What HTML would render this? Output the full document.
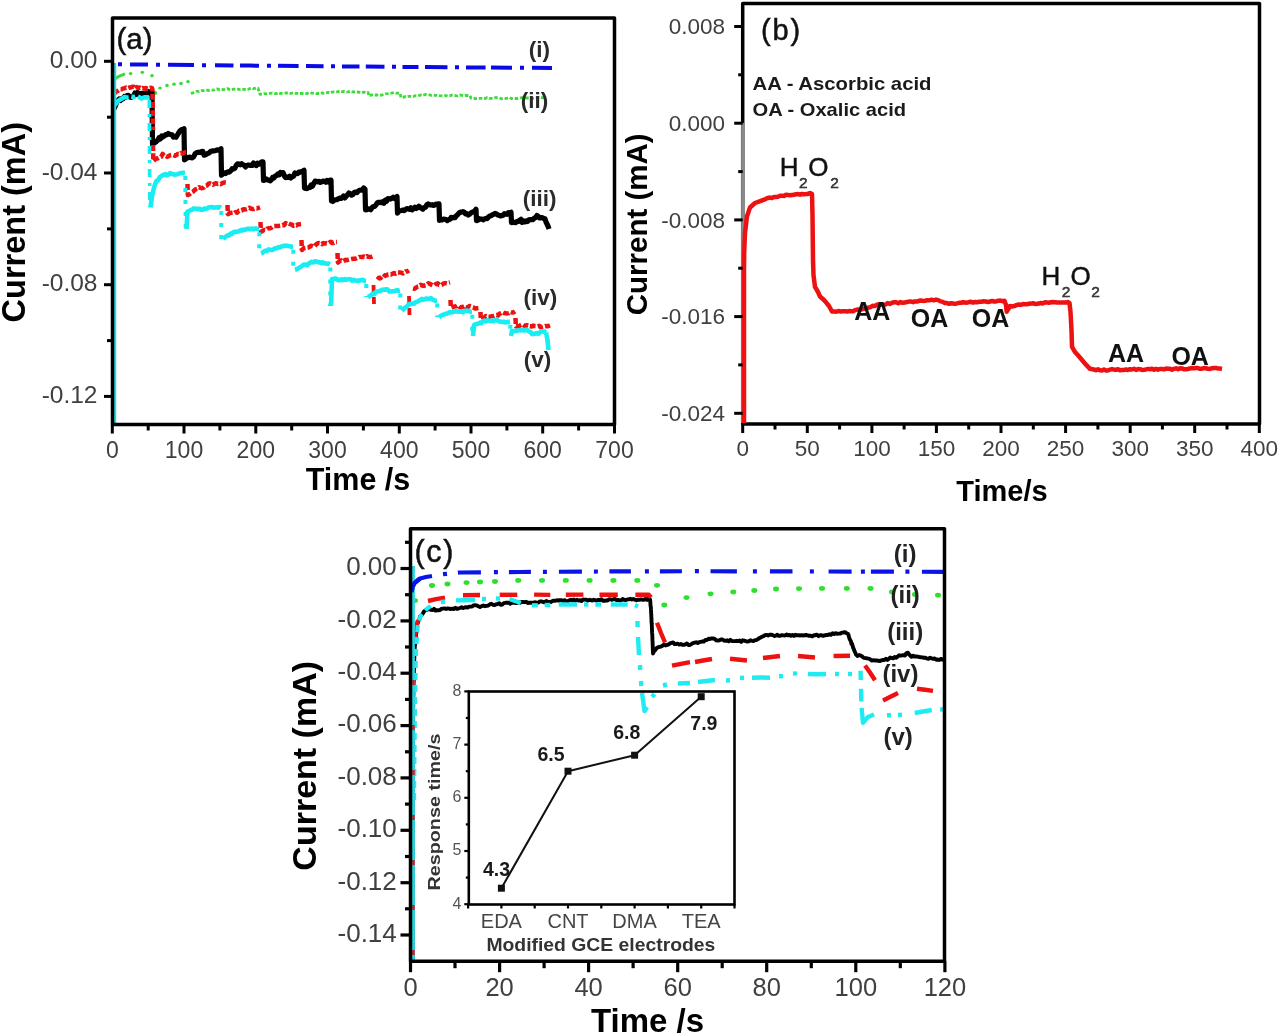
<!DOCTYPE html>
<html><head><meta charset="utf-8"><title>Figure</title>
<style>html,body{margin:0;padding:0;background:#fff;width:1280px;height:1035px;overflow:hidden}svg{display:block;font-family:"Liberation Sans",sans-serif;will-change:transform}</style></head>
<body>
<svg width="1280" height="1035" viewBox="0 0 1280 1035" font-family='"Liberation Sans", sans-serif'>
<rect width="1280" height="1035" fill="#fff"/>
<path d="M115.0,78.6 L120.0,75.8 L125.0,73.8" fill="none" stroke="#33dd33" stroke-width="3.0" stroke-linecap="butt" stroke-linejoin="round" opacity="1"/>
<ellipse cx="130.6" cy="73.6" rx="1.8" ry="1.6" fill="#33dd33"/>
<ellipse cx="142.3" cy="72.3" rx="1.8" ry="1.6" fill="#33dd33"/>
<ellipse cx="152" cy="75.7" rx="1.8" ry="1.6" fill="#33dd33"/>
<ellipse cx="160" cy="88" rx="1.8" ry="1.6" fill="#33dd33"/>
<ellipse cx="167" cy="85.4" rx="1.8" ry="1.6" fill="#33dd33"/>
<ellipse cx="174" cy="84.2" rx="1.8" ry="1.6" fill="#33dd33"/>
<ellipse cx="181" cy="83.4" rx="1.8" ry="1.6" fill="#33dd33"/>
<ellipse cx="188" cy="81.7" rx="1.8" ry="1.6" fill="#33dd33"/>
<ellipse cx="154.5" cy="93" rx="2.6" ry="2.3" fill="#33dd33"/>
<path d="M191.0,93.6 L193.0,92.8 L195.1,92.3 L197.1,91.3 L199.1,91.3 L201.2,90.6 L203.2,90.7 L205.2,90.4 L207.2,90.2 L209.3,90.5 L211.3,90.0 L213.3,90.2 L215.4,89.1 L217.4,88.9 L219.4,89.8 L221.5,89.5 L223.5,89.6 L225.5,89.3 L227.5,88.6 L229.6,89.5 L231.6,89.6 L233.6,89.1 L235.7,89.2 L237.7,89.1 L239.7,89.5 L241.8,89.0 L243.8,89.4 L245.8,89.5 L247.8,89.5 L249.9,88.5 L251.9,88.0 L253.9,88.7 L256.0,88.1 L258.0,88.2 L260.0,94.4 L262.0,94.1 L264.0,93.7 L266.0,93.9 L268.0,93.7 L270.0,93.3 L272.0,93.2 L274.0,93.3 L276.0,93.7 L278.0,92.7 L280.0,93.3 L282.0,93.4 L284.0,93.2 L286.0,93.1 L288.0,92.5 L290.0,93.3 L292.0,93.2 L294.0,92.9 L296.0,93.4 L298.0,93.4 L300.0,93.5 L302.0,93.3 L304.0,93.6 L306.0,93.6 L308.0,93.1 L310.0,92.6 L312.0,93.2 L314.0,93.1 L316.0,93.7 L318.0,93.5 L320.0,93.5 L322.0,92.9 L324.0,93.4 L326.0,93.0 L328.0,92.4 L330.0,93.1 L332.0,92.2 L334.0,91.9 L336.0,92.1 L338.0,91.6 L340.0,91.0 L342.0,91.7 L344.0,91.5 L346.0,92.1 L348.0,91.9 L350.0,91.3 L352.0,91.8 L354.0,91.9 L356.0,92.1 L358.0,92.0 L360.0,92.3 L362.0,92.7 L364.0,92.2 L366.0,92.6 L368.0,92.3 L369.0,96.0 L371.1,95.0 L373.1,94.9 L375.2,95.0 L377.3,95.0 L379.3,95.3 L381.4,95.2 L383.5,94.5 L385.5,93.9 L387.6,93.7 L389.7,93.4 L391.7,93.2 L393.8,92.5 L395.9,93.1 L397.9,93.2 L400.0,93.2 L401.0,97.5 L403.0,97.4 L405.1,96.6 L407.1,96.9 L409.1,96.2 L411.1,96.4 L413.2,96.5 L415.2,95.7 L417.2,95.7 L419.3,95.3 L421.3,95.0 L423.3,95.3 L425.4,94.5 L427.4,94.8 L429.4,94.9 L431.4,95.3 L433.5,95.1 L435.5,95.4 L437.5,95.3 L439.6,95.7 L441.6,95.9 L443.6,96.0 L445.6,95.5 L447.7,96.2 L449.7,95.9 L451.7,95.1 L453.8,95.2 L455.8,95.6 L457.8,95.8 L459.9,95.0 L461.9,95.3 L463.9,95.7 L465.9,95.3 L468.0,95.5 L470.0,95.7 L471.0,98.3 L473.0,98.8 L475.1,98.5 L477.1,98.6 L479.1,98.3 L481.1,98.3 L483.2,98.6 L485.2,98.4 L487.2,97.6 L489.2,98.3 L491.3,98.3 L493.3,98.4 L495.3,97.6 L497.4,97.6 L499.4,97.9 L501.4,98.8 L503.4,98.3 L505.5,98.5 L507.5,98.1 L509.5,97.5 L511.5,98.6 L513.6,98.7 L515.6,98.5 L517.6,98.5 L519.6,98.2 L521.7,97.6 L523.7,97.6 L525.7,97.9 L527.8,98.0 L529.8,98.0 L531.8,98.1 L533.8,98.3 L535.9,98.0 L537.9,97.6 L539.9,97.5 L541.9,97.6 L544.0,97.8 L546.0,97.8" fill="none" stroke="#3bdd3b" stroke-width="2.8" stroke-linecap="butt" stroke-linejoin="round" stroke-dasharray="3.5 1.8" opacity="1"/>
<path d="M118.0,64.3 L250.0,65.6 L400.0,66.9 L480.0,67.5 L552.0,68.0" fill="none" stroke="#0a0ae6" stroke-width="4.0" stroke-linecap="butt" stroke-linejoin="round" stroke-dasharray="4.0 8.0 18.0 8.0 4.0 8.0 26.0 8.0 4.0 9.0 18.5 6.5 19.0 8.0 4.0 7.0 20.6 7.4 17.6 7.4 4.0 7.0 17.5 6.3 18.7 7.5 4.0 6.5 16.0 6.5 22.5 7.5 4.0 7.0 19.6 5.4 21.0 8.0 4.0 8.0 20.0 40" opacity="1"/>
<path d="M114.0,108.8 L115.3,106.2 L116.6,102.4 L117.9,100.7 L119.2,99.0 L120.6,100.4 L121.9,98.3 L123.2,98.8 L124.5,96.4 L125.8,97.2 L127.1,95.6 L128.4,95.3 L129.7,96.9 L131.0,97.3 L132.3,96.7 L133.7,95.4 L135.0,93.0 L136.3,94.5 L137.6,92.5 L138.9,93.5 L140.2,93.7 L141.5,93.3 L142.8,93.4 L144.1,94.5 L145.4,94.0 L146.8,92.8 L148.1,91.6 L149.4,93.1 L150.7,91.8 L152.0,92.3 L152.5,144.3 L153.8,143.4 L155.1,142.4 L156.4,141.5 L157.8,140.1 L159.1,137.8 L160.4,138.9 L161.7,135.9 L163.0,136.8 L164.3,135.9 L165.6,134.7 L166.9,134.8 L168.2,133.4 L169.6,134.2 L170.9,134.6 L172.2,134.9 L173.5,137.1 L174.8,136.5 L176.1,137.2 L177.4,135.0 L178.8,132.7 L180.1,130.7 L181.4,129.7 L182.7,129.6 L184.0,128.7 L184.5,159.8 L185.8,159.0 L187.1,158.0 L188.4,157.3 L189.7,157.2 L191.0,157.7 L192.3,157.8 L193.6,156.7 L194.9,154.2 L196.2,152.9 L197.5,152.4 L198.8,152.2 L200.1,152.6 L201.4,151.5 L202.8,151.3 L204.1,155.2 L205.4,154.8 L206.7,154.0 L208.0,153.2 L209.3,152.9 L210.6,151.3 L211.9,151.2 L213.2,150.8 L214.5,150.8 L215.8,150.4 L217.1,149.9 L218.4,150.2 L219.7,149.8 L221.0,148.7 L221.5,175.1 L222.8,173.8 L224.2,172.8 L225.5,173.5 L226.9,172.2 L228.2,171.9 L229.5,172.1 L230.9,170.6 L232.2,168.7 L233.5,169.1 L234.9,168.3 L236.2,165.4 L237.6,163.8 L238.9,164.1 L240.2,164.8 L241.6,163.6 L242.9,164.8 L244.3,165.2 L245.6,166.9 L246.9,165.4 L248.3,165.0 L249.6,165.3 L251.0,165.2 L252.3,165.4 L253.6,163.0 L255.0,164.8 L256.3,165.6 L257.6,163.2 L259.0,164.1 L260.3,162.8 L261.7,161.8 L263.0,161.9 L263.5,180.5 L264.8,180.1 L266.1,178.9 L267.4,179.9 L268.7,180.1 L270.0,180.9 L271.3,179.8 L272.6,177.4 L274.0,178.0 L275.3,175.9 L276.6,175.5 L277.9,174.0 L279.2,174.8 L280.5,172.5 L281.8,172.9 L283.1,172.6 L284.4,176.0 L285.7,177.6 L287.0,177.1 L288.3,177.5 L289.6,176.2 L290.9,177.9 L292.2,176.7 L293.5,176.3 L294.9,173.0 L296.2,173.6 L297.5,173.7 L298.8,172.0 L300.1,172.3 L301.4,171.6 L302.7,171.0 L304.0,170.3 L304.5,188.0 L305.8,188.5 L307.1,188.6 L308.5,187.8 L309.8,187.5 L311.1,184.9 L312.4,186.2 L313.8,183.6 L315.1,181.1 L316.4,181.3 L317.8,181.8 L319.1,181.4 L320.4,182.4 L321.7,181.9 L323.1,181.1 L324.4,181.3 L325.7,182.2 L327.0,180.5 L328.4,182.0 L329.7,180.4 L331.0,180.1 L331.5,200.9 L332.8,201.5 L334.2,200.1 L335.5,199.8 L336.9,199.6 L338.2,198.9 L339.5,198.1 L340.9,198.5 L342.2,197.6 L343.6,195.9 L344.9,197.9 L346.2,196.3 L347.6,194.8 L348.9,193.0 L350.3,193.7 L351.6,195.2 L352.9,194.5 L354.3,192.3 L355.6,192.1 L357.0,192.7 L358.3,191.0 L359.6,190.3 L361.0,190.1 L362.3,190.1 L363.7,188.0 L365.0,189.2 L365.5,209.8 L366.8,209.7 L368.1,208.9 L369.4,208.9 L370.8,209.7 L372.1,207.7 L373.4,206.5 L374.7,206.4 L376.0,204.9 L377.3,202.7 L378.6,202.3 L379.9,202.4 L381.2,202.7 L382.6,201.7 L383.9,203.2 L385.2,200.2 L386.5,201.3 L387.8,198.5 L389.1,198.7 L390.4,199.1 L391.8,198.2 L393.1,197.3 L394.4,198.5 L395.7,197.6 L397.0,196.6 L397.5,213.2 L398.8,211.2 L400.2,210.7 L401.5,210.5 L402.9,210.1 L404.2,210.6 L405.5,209.3 L406.9,208.7 L408.2,208.8 L409.5,209.3 L410.9,207.8 L412.2,209.8 L413.6,208.7 L414.9,207.2 L416.2,208.5 L417.6,207.7 L418.9,206.2 L420.3,207.5 L421.6,208.4 L422.9,209.2 L424.3,207.5 L425.6,207.2 L427.0,204.5 L428.3,203.9 L429.6,204.7 L431.0,205.1 L432.3,204.7 L433.6,205.5 L435.0,204.8 L436.3,204.0 L437.7,204.1 L439.0,203.8 L439.5,220.3 L440.8,220.0 L442.1,220.0 L443.4,219.0 L444.7,219.3 L446.0,219.6 L447.3,220.5 L448.6,219.6 L449.9,219.5 L451.2,217.4 L452.5,217.8 L453.8,217.3 L455.1,217.7 L456.4,215.7 L457.8,214.5 L459.1,213.1 L460.4,212.0 L461.7,212.1 L463.0,211.6 L464.3,212.1 L465.6,214.0 L466.9,213.7 L468.2,215.1 L469.5,214.3 L470.8,213.1 L472.1,212.2 L473.4,211.8 L474.7,211.1 L476.0,209.3 L476.5,220.6 L477.8,220.3 L479.2,218.6 L480.5,219.1 L481.8,219.1 L483.1,219.8 L484.5,218.8 L485.8,218.7 L487.1,218.7 L488.4,216.9 L489.8,216.1 L491.1,215.8 L492.4,214.7 L493.8,214.3 L495.1,213.4 L496.4,213.9 L497.7,214.9 L499.1,215.3 L500.4,216.0 L501.7,215.5 L503.0,215.5 L504.4,213.7 L505.7,214.0 L507.0,214.3 L508.3,212.7 L509.7,213.0 L511.0,212.3 L511.5,222.6 L512.8,222.5 L514.2,222.4 L515.5,222.7 L516.9,221.6 L518.2,221.4 L519.5,220.3 L520.9,219.3 L522.2,222.4 L523.6,220.9 L524.9,221.9 L526.2,220.8 L527.6,221.5 L528.9,219.8 L530.3,219.6 L531.6,219.5 L532.9,219.6 L534.3,218.2 L535.6,217.6 L537.0,215.4 L538.3,216.5 L539.6,217.9 L541.0,217.6 L542.3,217.6 L543.7,218.5 L545.0,218.8 L546.0,222.0 L548.0,226.0 L549.0,229.0" fill="none" stroke="#000" stroke-width="5.2" stroke-linecap="butt" stroke-linejoin="round" opacity="1"/>
<path d="M114.0,93.9 L115.5,92.2 L117.0,91.3 L118.6,90.3 L120.1,89.2 L121.6,89.2 L123.1,88.4 L124.6,88.2 L126.2,87.6 L127.7,88.2 L129.2,87.6 L130.7,87.5 L132.2,86.8 L133.8,86.8 L135.3,88.5 L136.8,87.1 L138.3,88.2 L139.8,87.5 L141.4,88.5 L142.9,88.0 L144.4,88.8 L145.9,88.0 L147.4,88.7 L149.0,88.1 L150.5,87.8 L152.0,87.9 L152.5,90.0 L153.0,130.0" fill="none" stroke="#ee1111" stroke-width="4.5" stroke-linecap="butt" stroke-linejoin="round" stroke-dasharray="6 2.2" opacity="1"/>
<path d="M153.0,145.0 L153.3,161.0 L153.6,160.8 L155.1,159.4 L156.6,158.4 L158.2,158.3 L159.7,157.4 L161.2,156.8 L162.7,153.9 L164.2,156.0 L165.7,155.9 L167.3,156.9 L168.8,156.0 L170.3,155.2 L171.8,155.0 L173.3,155.1 L174.9,155.8 L176.4,155.0 L177.9,153.9 L179.4,154.1 L180.9,153.0 L182.4,153.5 L184.0,152.6 L185.5,152.3 L187.0,152.1" fill="none" stroke="#ee1111" stroke-width="4.5" stroke-linecap="butt" stroke-linejoin="round" stroke-dasharray="6 2.2" opacity="1"/>
<path d="M187.5,184.0 L187.8,195.0 L188.1,195.0 L189.7,194.1 L191.2,192.6 L192.8,191.8 L194.3,190.3 L195.9,189.2 L197.4,188.6 L199.0,187.2 L200.5,187.9 L202.1,188.2 L203.7,187.6 L205.2,186.0 L206.8,185.6 L208.3,183.9 L209.9,183.2 L211.4,183.9 L213.0,184.8 L214.6,183.6 L216.1,183.2 L217.7,183.9 L219.2,183.6 L220.8,184.2 L222.3,183.2 L223.9,182.6 L225.4,182.5 L227.0,182.6" fill="none" stroke="#ee1111" stroke-width="4.5" stroke-linecap="butt" stroke-linejoin="round" stroke-dasharray="6 2.2" opacity="1"/>
<path d="M227.5,205.0 L227.8,213.8 L228.1,214.2 L229.6,213.2 L231.1,212.8 L232.7,212.6 L234.2,213.3 L235.7,212.1 L237.2,212.7 L238.7,210.8 L240.3,210.8 L241.8,210.5 L243.3,209.3 L244.8,209.4 L246.3,209.3 L247.8,208.8 L249.4,207.7 L250.9,208.7 L252.4,209.1 L253.9,208.9 L255.4,208.3 L257.0,208.4 L258.5,207.8 L260.0,207.3" fill="none" stroke="#ee1111" stroke-width="4.5" stroke-linecap="butt" stroke-linejoin="round" stroke-dasharray="6 2.2" opacity="1"/>
<path d="M260.5,222.0 L260.8,231.0 L261.1,231.6 L262.6,230.9 L264.2,229.9 L265.7,230.1 L267.2,228.6 L268.8,228.2 L270.3,228.2 L271.8,227.4 L273.4,226.1 L274.9,226.0 L276.4,226.1 L278.0,225.9 L279.5,225.8 L281.1,225.6 L282.6,225.0 L284.1,225.3 L285.7,223.0 L287.2,224.1 L288.7,223.6 L290.3,224.3 L291.8,224.5 L293.3,225.8 L294.9,225.1 L296.4,225.4 L297.9,224.4 L299.5,224.2 L301.0,224.0" fill="none" stroke="#ee1111" stroke-width="4.5" stroke-linecap="butt" stroke-linejoin="round" stroke-dasharray="6 2.2" opacity="1"/>
<path d="M301.5,240.0 L301.8,249.7 L302.1,250.0 L303.6,248.3 L305.1,248.1 L306.7,247.8 L308.2,247.6 L309.7,246.7 L311.2,245.8 L312.7,246.1 L314.2,246.7 L315.8,244.8 L317.3,243.5 L318.8,243.0 L320.3,243.2 L321.8,244.3 L323.3,243.1 L324.9,243.5 L326.4,243.1 L327.9,243.5 L329.4,242.5 L330.9,241.7 L332.4,243.0 L334.0,242.7 L335.5,241.9 L337.0,241.9" fill="none" stroke="#ee1111" stroke-width="4.5" stroke-linecap="butt" stroke-linejoin="round" stroke-dasharray="6 2.2" opacity="1"/>
<path d="M337.5,253.0 L337.8,262.0 L338.1,262.6 L339.6,260.9 L341.1,260.3 L342.7,261.5 L344.2,260.7 L345.7,259.8 L347.2,260.2 L348.7,259.7 L350.2,259.3 L351.8,258.9 L353.3,258.7 L354.8,258.8 L356.3,258.4 L357.8,257.7 L359.3,256.9 L360.9,256.9 L362.4,257.0 L363.9,256.5 L365.4,257.1 L366.9,256.2 L368.4,256.8 L370.0,257.0 L371.5,256.8 L373.0,256.2" fill="none" stroke="#ee1111" stroke-width="4.5" stroke-linecap="butt" stroke-linejoin="round" stroke-dasharray="6 2.2" opacity="1"/>
<path d="M373.5,285.0 L374.0,304.0" fill="none" stroke="#ee1111" stroke-width="3.8" stroke-linecap="butt" stroke-linejoin="round" stroke-dasharray="9 3" opacity="1"/>
<path d="M377.5,279.7 L379.0,277.7 L380.5,278.2 L382.0,276.6 L383.5,277.3 L385.0,275.2 L386.5,275.4 L388.0,274.4 L389.5,274.3 L391.0,274.5 L392.5,273.8 L394.0,273.1 L395.5,273.7 L397.0,272.6 L398.5,272.6 L400.0,272.4 L401.5,272.7 L403.0,273.4 L404.5,272.4 L406.0,271.2 L407.5,271.4 L409.0,270.4" fill="none" stroke="#ee1111" stroke-width="4.5" stroke-linecap="butt" stroke-linejoin="round" stroke-dasharray="6 2.2" opacity="1"/>
<path d="M409.0,296.0 L409.5,315.0" fill="none" stroke="#ee1111" stroke-width="3.8" stroke-linecap="butt" stroke-linejoin="round" stroke-dasharray="9 3" opacity="1"/>
<path d="M413.0,288.4 L414.5,288.8 L416.1,287.6 L417.6,286.6 L419.2,286.2 L420.7,284.8 L422.2,285.5 L423.8,285.9 L425.3,285.2 L426.9,284.8 L428.4,283.2 L430.0,283.9 L431.5,284.8 L433.0,285.4 L434.6,285.2 L436.1,283.8 L437.7,283.3 L439.2,285.0 L440.8,285.1 L442.3,284.5 L443.8,283.4 L445.4,283.1 L446.9,283.4 L448.5,282.8 L450.0,282.4" fill="none" stroke="#ee1111" stroke-width="4.5" stroke-linecap="butt" stroke-linejoin="round" stroke-dasharray="6 2.2" opacity="1"/>
<path d="M450.5,300.0 L450.8,307.0 L451.1,307.7 L452.6,307.1 L454.1,306.5 L455.7,306.5 L457.2,305.5 L458.7,306.2 L460.2,307.7 L461.7,307.1 L463.3,306.6 L464.8,305.9 L466.3,307.8 L467.8,307.2 L469.4,306.0 L470.9,306.5 L472.4,307.2 L473.9,307.7 L475.4,308.6 L477.0,308.2 L478.5,308.0 L480.0,308.6" fill="none" stroke="#ee1111" stroke-width="4.5" stroke-linecap="butt" stroke-linejoin="round" stroke-dasharray="6 2.2" opacity="1"/>
<path d="M480.5,312.0 L480.8,319.0 L481.1,319.6 L482.6,318.9 L484.2,317.7 L485.7,316.1 L487.3,316.8 L488.8,317.0 L490.3,316.6 L491.9,316.2 L493.4,315.9 L495.0,315.3 L496.5,315.0 L498.1,315.5 L499.6,313.6 L501.1,313.1 L502.7,312.2 L504.2,313.0 L505.8,313.3 L507.3,313.4 L508.8,313.1 L510.4,311.9 L511.9,312.4 L513.5,312.4 L515.0,311.4" fill="none" stroke="#ee1111" stroke-width="4.5" stroke-linecap="butt" stroke-linejoin="round" stroke-dasharray="6 2.2" opacity="1"/>
<path d="M515.5,318.0 L515.8,326.0 L516.1,326.5 L517.6,326.2 L519.2,326.2 L520.7,325.0 L522.3,324.3 L523.8,325.4 L525.3,326.5 L526.9,325.0 L528.4,326.0 L530.0,326.1 L531.5,326.5 L533.0,325.6 L534.6,326.0 L536.1,326.1 L537.7,326.3 L539.2,325.8 L540.8,327.4 L542.3,326.9 L543.8,326.5 L545.4,326.0 L546.9,326.3 L548.5,326.0 L550.0,325.4" fill="none" stroke="#ee1111" stroke-width="4.5" stroke-linecap="butt" stroke-linejoin="round" stroke-dasharray="6 2.2" opacity="1"/>
<path d="M114.0,105.7 L115.5,104.1 L117.0,102.0 L118.6,100.6 L120.1,99.6 L121.6,98.7 L123.1,98.0 L124.7,97.0 L126.2,97.3 L127.7,97.5 L129.2,97.4 L130.7,96.4 L132.3,96.7 L133.8,97.1 L135.3,96.8 L136.8,96.1 L138.3,96.7 L139.9,97.6 L141.4,98.5 L142.9,98.0 L144.4,97.2 L146.0,97.4 L147.5,97.4 L149.0,97.0" fill="none" stroke="#18eef2" stroke-width="4.6" stroke-linecap="butt" stroke-linejoin="round" stroke-dasharray="18 3 4 3" opacity="1"/>
<path d="M149.3,100.0 L149.8,207.0" fill="none" stroke="#18eef2" stroke-width="3.6" stroke-linecap="butt" stroke-linejoin="round" stroke-dasharray="8 6 3 6" opacity="1"/>
<path d="M150.5,207.5 L152.0,196.5 L153.5,189.6 L155.0,184.3 L156.5,180.8 L158.0,180.5 L159.5,177.4 L161.0,176.4 L162.5,175.2 L164.0,174.8 L165.5,174.1 L167.0,175.4 L168.5,174.5 L170.0,173.1 L171.5,173.9 L173.0,174.2 L174.5,174.6 L176.0,174.5 L177.5,174.2 L179.0,173.5 L180.5,173.1 L182.0,173.0 L183.5,172.8 L185.0,173.0" fill="none" stroke="#18eef2" stroke-width="4.6" stroke-linecap="butt" stroke-linejoin="round" opacity="1"/>
<path d="M185.3,176.0 L185.7,229.0" fill="none" stroke="#18eef2" stroke-width="4.0" stroke-linecap="butt" stroke-linejoin="round" stroke-dasharray="4 8" opacity="1"/>
<path d="M186.5,229.0 L187.5,212.0 L187.5,211.5 L189.0,211.1 L190.5,210.1 L192.1,209.8 L193.6,208.4 L195.1,208.8 L196.6,208.7 L198.2,209.2 L199.7,208.7 L201.2,209.8 L202.7,209.9 L204.2,208.5 L205.8,208.7 L207.3,208.5 L208.8,207.2 L210.3,207.3 L211.9,207.0 L213.4,207.6 L214.9,207.5 L216.4,207.2 L218.0,207.6 L219.5,207.0 L221.0,207.9" fill="none" stroke="#18eef2" stroke-width="4.6" stroke-linecap="butt" stroke-linejoin="round" opacity="1"/>
<path d="M221.3,210.9 L221.2,239.0" fill="none" stroke="#18eef2" stroke-width="4.0" stroke-linecap="butt" stroke-linejoin="round" stroke-dasharray="4 8" opacity="1"/>
<path d="M223.0,238.6 L224.5,237.7 L226.0,236.5 L227.5,235.4 L229.0,235.5 L230.5,233.6 L232.0,233.7 L233.5,232.3 L235.0,231.8 L236.5,231.9 L238.0,231.5 L239.5,230.9 L241.0,230.1 L242.5,230.4 L244.0,229.6 L245.5,229.8 L247.0,228.9 L248.5,228.8 L250.0,229.3 L251.5,228.5 L253.0,229.4 L254.5,228.6 L256.0,228.5 L257.5,228.9 L259.0,229.3" fill="none" stroke="#18eef2" stroke-width="4.6" stroke-linecap="butt" stroke-linejoin="round" opacity="1"/>
<path d="M259.3,232.3 L259.2,254.0" fill="none" stroke="#18eef2" stroke-width="4.0" stroke-linecap="butt" stroke-linejoin="round" stroke-dasharray="4 8" opacity="1"/>
<path d="M261.0,253.4 L262.5,252.9 L264.0,251.4 L265.6,250.7 L267.1,250.9 L268.6,249.4 L270.1,249.8 L271.7,250.0 L273.2,249.5 L274.7,248.4 L276.2,248.4 L277.8,247.3 L279.3,247.5 L280.8,246.7 L282.3,246.3 L283.9,245.9 L285.4,245.7 L286.9,245.6 L288.4,246.0 L290.0,246.3 L291.5,246.7 L293.0,246.7" fill="none" stroke="#18eef2" stroke-width="4.6" stroke-linecap="butt" stroke-linejoin="round" opacity="1"/>
<path d="M293.3,249.7 L293.2,270.0" fill="none" stroke="#18eef2" stroke-width="4.0" stroke-linecap="butt" stroke-linejoin="round" stroke-dasharray="4 8" opacity="1"/>
<path d="M295.0,269.7 L296.5,269.3 L298.0,268.5 L299.6,267.6 L301.1,266.6 L302.6,265.5 L304.1,264.5 L305.7,264.5 L307.2,265.2 L308.7,263.5 L310.2,262.7 L311.7,261.9 L313.3,262.4 L314.8,261.2 L316.3,261.4 L317.8,262.3 L319.3,262.0 L320.9,263.0 L322.4,262.2 L323.9,263.3 L325.4,263.4 L327.0,263.8 L328.5,263.6 L330.0,264.4" fill="none" stroke="#18eef2" stroke-width="4.6" stroke-linecap="butt" stroke-linejoin="round" opacity="1"/>
<path d="M330.3,267.4 L330.2,306.0" fill="none" stroke="#18eef2" stroke-width="4.0" stroke-linecap="butt" stroke-linejoin="round" stroke-dasharray="4 8" opacity="1"/>
<path d="M331.0,306.0 L332.0,279.0 L332.0,279.4 L333.5,278.9 L335.1,278.6 L336.6,278.8 L338.2,280.2 L339.7,280.2 L341.3,279.4 L342.8,280.1 L344.4,279.1 L345.9,279.9 L347.5,279.4 L349.0,279.3 L350.5,279.3 L352.1,280.7 L353.6,279.9 L355.2,280.5 L356.7,280.7 L358.3,280.4 L359.8,280.7 L361.4,280.0 L362.9,279.9 L364.5,280.9 L366.0,281.1" fill="none" stroke="#18eef2" stroke-width="4.6" stroke-linecap="butt" stroke-linejoin="round" opacity="1"/>
<path d="M366.3,284.1 L366.2,297.0" fill="none" stroke="#18eef2" stroke-width="4.0" stroke-linecap="butt" stroke-linejoin="round" stroke-dasharray="4 8" opacity="1"/>
<path d="M368.0,297.1 L369.5,296.3 L371.0,295.1 L372.6,293.8 L374.1,294.2 L375.6,292.3 L377.1,291.5 L378.7,291.2 L380.2,291.0 L381.7,290.0 L383.2,289.6 L384.8,289.8 L386.3,289.3 L387.8,289.6 L389.3,291.5 L390.9,291.5 L392.4,291.2 L393.9,291.3 L395.4,290.7 L397.0,290.3 L398.5,290.8 L400.0,290.5" fill="none" stroke="#18eef2" stroke-width="4.6" stroke-linecap="butt" stroke-linejoin="round" opacity="1"/>
<path d="M400.3,293.5 L400.2,311.0" fill="none" stroke="#18eef2" stroke-width="4.0" stroke-linecap="butt" stroke-linejoin="round" stroke-dasharray="4 8" opacity="1"/>
<path d="M402.0,310.9 L403.5,309.3 L405.0,307.6 L406.6,306.9 L408.1,304.9 L409.6,303.9 L411.1,304.1 L412.7,303.5 L414.2,303.7 L415.7,302.2 L417.2,301.8 L418.7,300.9 L420.3,300.2 L421.8,298.9 L423.3,299.8 L424.8,298.9 L426.3,298.6 L427.9,298.8 L429.4,298.7 L430.9,298.1 L432.4,299.4 L434.0,300.3 L435.5,300.7 L437.0,300.5" fill="none" stroke="#18eef2" stroke-width="4.6" stroke-linecap="butt" stroke-linejoin="round" opacity="1"/>
<path d="M437.3,303.5 L437.2,317.0" fill="none" stroke="#18eef2" stroke-width="4.0" stroke-linecap="butt" stroke-linejoin="round" stroke-dasharray="4 8" opacity="1"/>
<path d="M439.0,317.5 L440.5,316.1 L442.0,315.3 L443.5,314.8 L445.0,313.9 L446.5,313.8 L448.0,313.1 L449.5,312.0 L451.0,312.5 L452.5,311.9 L454.0,312.0 L455.5,310.9 L457.0,311.5 L458.5,311.7 L460.0,311.4 L461.5,311.9 L463.0,312.3 L464.5,311.0 L466.0,310.6 L467.5,310.8 L469.0,311.0 L470.5,311.8 L472.0,311.7" fill="none" stroke="#18eef2" stroke-width="4.6" stroke-linecap="butt" stroke-linejoin="round" opacity="1"/>
<path d="M472.3,314.7 L472.2,336.0" fill="none" stroke="#18eef2" stroke-width="4.0" stroke-linecap="butt" stroke-linejoin="round" stroke-dasharray="4 8" opacity="1"/>
<path d="M473.0,336.0 L474.0,325.0 L474.0,325.0 L475.5,324.2 L477.0,323.9 L478.5,323.6 L480.0,322.5 L481.5,323.1 L483.0,321.3 L484.5,320.6 L486.0,321.4 L487.5,320.2 L489.0,320.8 L490.5,321.1 L492.0,320.5 L493.5,321.3 L495.0,320.4 L496.5,319.7 L498.0,321.2 L499.5,321.4 L501.0,321.8 L502.5,321.9 L504.0,321.7 L505.5,322.5 L507.0,322.1 L508.5,321.9 L510.0,321.7" fill="none" stroke="#18eef2" stroke-width="4.6" stroke-linecap="butt" stroke-linejoin="round" opacity="1"/>
<path d="M510.3,324.7 L510.2,336.0" fill="none" stroke="#18eef2" stroke-width="4.0" stroke-linecap="butt" stroke-linejoin="round" stroke-dasharray="4 8" opacity="1"/>
<path d="M511.0,336.0 L512.0,331.0 L512.0,330.9 L513.5,331.3 L515.1,330.9 L516.6,330.9 L518.2,330.6 L519.7,330.1 L521.3,330.5 L522.8,330.1 L524.4,330.5 L525.9,329.6 L527.5,330.2 L529.0,331.6 L530.5,332.0 L532.1,334.1 L533.6,333.9 L535.2,333.8 L536.7,333.0 L538.3,333.8 L539.8,332.3 L541.4,331.2 L542.9,331.6 L544.5,331.5 L546.0,332.4" fill="none" stroke="#18eef2" stroke-width="4.6" stroke-linecap="butt" stroke-linejoin="round" opacity="1"/>
<path d="M546.0,332.4 L547.5,340.0 L548.5,350.0" fill="none" stroke="#18eef2" stroke-width="4.6" stroke-linecap="butt" stroke-linejoin="round" opacity="1"/>
<line x1="114.9" y1="63.0" x2="114.9" y2="423.0" stroke="#2ad6e0" stroke-width="2.6"/>
<rect x="112.5" y="18" width="502.0" height="406.5" fill="none" stroke="#000" stroke-width="3.5" stroke-linejoin="round"/>
<line x1="104.0" y1="61.3" x2="112.5" y2="61.3" stroke="#000" stroke-width="3"/>
<text x="97.5" y="67.9" font-size="24.5" font-weight="normal" text-anchor="end" fill="#404040" >0.00</text>
<line x1="107.0" y1="117.2" x2="112.5" y2="117.2" stroke="#000" stroke-width="3"/>
<line x1="104.0" y1="173.0" x2="112.5" y2="173.0" stroke="#000" stroke-width="3"/>
<text x="97.5" y="179.6" font-size="24.5" font-weight="normal" text-anchor="end" fill="#404040" >-0.04</text>
<line x1="107.0" y1="228.9" x2="112.5" y2="228.9" stroke="#000" stroke-width="3"/>
<line x1="104.0" y1="284.7" x2="112.5" y2="284.7" stroke="#000" stroke-width="3"/>
<text x="97.5" y="291.3" font-size="24.5" font-weight="normal" text-anchor="end" fill="#404040" >-0.08</text>
<line x1="107.0" y1="340.6" x2="112.5" y2="340.6" stroke="#000" stroke-width="3"/>
<line x1="104.0" y1="396.4" x2="112.5" y2="396.4" stroke="#000" stroke-width="3"/>
<text x="97.5" y="403.0" font-size="24.5" font-weight="normal" text-anchor="end" fill="#404040" >-0.12</text>
<line x1="112.3" y1="424.5" x2="112.3" y2="433.5" stroke="#000" stroke-width="3"/>
<text x="112.3" y="458.0" font-size="23" font-weight="normal" text-anchor="middle" fill="#404040" >0</text>
<line x1="148.2" y1="424.5" x2="148.2" y2="430.5" stroke="#000" stroke-width="3"/>
<line x1="184.0" y1="424.5" x2="184.0" y2="433.5" stroke="#000" stroke-width="3"/>
<text x="184.0" y="458.0" font-size="23" font-weight="normal" text-anchor="middle" fill="#404040" >100</text>
<line x1="219.9" y1="424.5" x2="219.9" y2="430.5" stroke="#000" stroke-width="3"/>
<line x1="255.8" y1="424.5" x2="255.8" y2="433.5" stroke="#000" stroke-width="3"/>
<text x="255.8" y="458.0" font-size="23" font-weight="normal" text-anchor="middle" fill="#404040" >200</text>
<line x1="291.7" y1="424.5" x2="291.7" y2="430.5" stroke="#000" stroke-width="3"/>
<line x1="327.5" y1="424.5" x2="327.5" y2="433.5" stroke="#000" stroke-width="3"/>
<text x="327.5" y="458.0" font-size="23" font-weight="normal" text-anchor="middle" fill="#404040" >300</text>
<line x1="363.4" y1="424.5" x2="363.4" y2="430.5" stroke="#000" stroke-width="3"/>
<line x1="399.3" y1="424.5" x2="399.3" y2="433.5" stroke="#000" stroke-width="3"/>
<text x="399.3" y="458.0" font-size="23" font-weight="normal" text-anchor="middle" fill="#404040" >400</text>
<line x1="435.1" y1="424.5" x2="435.1" y2="430.5" stroke="#000" stroke-width="3"/>
<line x1="471.0" y1="424.5" x2="471.0" y2="433.5" stroke="#000" stroke-width="3"/>
<text x="471.0" y="458.0" font-size="23" font-weight="normal" text-anchor="middle" fill="#404040" >500</text>
<line x1="506.9" y1="424.5" x2="506.9" y2="430.5" stroke="#000" stroke-width="3"/>
<line x1="542.7" y1="424.5" x2="542.7" y2="433.5" stroke="#000" stroke-width="3"/>
<text x="542.7" y="458.0" font-size="23" font-weight="normal" text-anchor="middle" fill="#404040" >600</text>
<line x1="578.6" y1="424.5" x2="578.6" y2="430.5" stroke="#000" stroke-width="3"/>
<line x1="614.5" y1="424.5" x2="614.5" y2="433.5" stroke="#000" stroke-width="3"/>
<text x="614.5" y="458.0" font-size="23" font-weight="normal" text-anchor="middle" fill="#404040" >700</text>
<text x="116.5" y="48.8" font-size="29.5" font-weight="normal" text-anchor="start" fill="#111" stroke="#111" stroke-width="0.5">(a)</text>
<text x="358.0" y="489.8" font-size="30.5" font-weight="bold" text-anchor="middle" fill="#000" >Time /s</text>
<text x="25.5" y="222.2" font-size="32.5" font-weight="bold" text-anchor="middle" fill="#000" transform="rotate(-90 25.5 222.2)">Current (mA)</text>
<text x="539.3" y="56.6" font-size="22.5" font-weight="bold" text-anchor="middle" fill="#2a2a2a" >(i)</text>
<text x="534.6" y="107.7" font-size="22.5" font-weight="bold" text-anchor="middle" fill="#2a2a2a" >(ii)</text>
<text x="539.6" y="206.3" font-size="22.5" font-weight="bold" text-anchor="middle" fill="#2a2a2a" >(iii)</text>
<text x="540.4" y="304.7" font-size="22.5" font-weight="bold" text-anchor="middle" fill="#2a2a2a" >(iv)</text>
<text x="537.4" y="366.5" font-size="22.5" font-weight="bold" text-anchor="middle" fill="#2a2a2a" >(v)</text>
<rect x="742.7" y="3.6" width="516.8" height="420.4" fill="none" stroke="#000" stroke-width="3.5" stroke-linejoin="round"/>
<line x1="742.9" y1="123.0" x2="742.9" y2="423.0" stroke="#8a8a8a" stroke-width="3.6"/>
<path d="M744.0,423.0 L744.0,330.0 L744.0,270.0 L744.2,252.6 L745.0,233.0 L747.0,216.3 L750.0,207.5 L755.0,203.0 L765.0,199.4 L766.0,198.8 L768.0,197.9 L770.0,197.6 L772.0,198.1 L774.0,196.9 L776.0,196.9 L778.0,196.7 L780.0,195.7 L782.0,195.8 L784.0,196.0 L786.0,194.8 L788.0,195.0 L790.0,195.2 L792.0,194.9 L794.0,194.8 L796.0,194.2 L798.0,194.1 L800.0,194.7 L802.0,193.9 L804.0,194.2 L806.0,194.1 L808.0,193.9 L810.0,193.0 L812.0,194.0 L812.5,215.0 L813.0,260.0 L813.5,275.3 L815.0,286.9 L818.0,292.0 L820.0,296.5 L824.0,300.0 L826.0,302.3 L829.0,306.0 L832.0,311.5 L832.0,311.4 L834.2,311.4 L836.3,311.7 L838.5,311.1 L840.7,311.4 L842.8,311.3 L845.0,311.3 L847.0,311.6 L849.0,311.1 L851.0,311.2 L853.0,311.2 L855.0,310.2 L857.2,309.6 L859.4,309.6 L861.6,309.5 L863.8,308.7 L866.0,308.4 L868.2,307.6 L870.4,307.2 L872.6,305.8 L874.8,306.1 L877.0,304.7 L879.1,304.3 L881.3,304.6 L883.4,304.8 L885.6,304.5 L887.7,303.1 L889.9,303.9 L892.0,302.7 L894.1,302.3 L896.2,302.3 L898.4,303.2 L900.5,302.1 L902.6,302.8 L904.8,302.6 L906.9,302.0 L909.0,301.6 L911.0,301.5 L913.0,302.2 L915.0,301.4 L917.0,301.6 L919.0,300.8 L921.0,300.5 L923.0,300.9 L925.0,300.8 L927.2,300.3 L929.4,300.3 L931.6,299.7 L933.8,300.3 L936.0,299.6 L938.2,300.1 L940.5,301.4 L942.8,301.9 L945.0,303.1 L947.0,303.1 L949.0,303.8 L951.0,303.3 L953.0,303.5 L955.0,303.9 L957.0,303.4 L959.0,302.8 L961.0,302.8 L963.0,302.3 L965.0,302.5 L967.0,302.7 L969.0,302.1 L971.0,301.8 L973.0,302.6 L975.0,301.9 L977.1,302.2 L979.3,301.7 L981.4,301.7 L983.6,301.3 L985.7,301.4 L987.9,302.1 L990.0,301.5 L992.1,301.0 L994.1,301.5 L996.2,301.5 L998.3,300.7 L1000.4,300.6 L1002.4,301.2 L1004.5,300.8 L1006.0,305.0 L1006.7,311.7 L1010.0,306.3 L1010.0,306.1 L1012.1,306.4 L1014.3,306.1 L1016.4,305.1 L1018.6,304.5 L1020.7,304.8 L1022.9,304.0 L1025.0,304.3 L1027.0,304.3 L1029.0,303.8 L1031.0,303.6 L1033.0,303.2 L1035.0,303.9 L1037.0,303.7 L1039.0,303.4 L1041.0,303.1 L1043.0,303.4 L1045.0,302.3 L1047.0,302.4 L1049.0,302.8 L1051.0,302.3 L1053.0,302.1 L1055.0,302.2 L1057.2,302.4 L1059.3,302.5 L1061.5,302.6 L1063.7,302.6 L1065.8,302.6 L1068.0,302.0 L1069.5,303.0 L1070.5,312.0 L1071.5,330.0 L1072.0,346.9 L1075.0,352.0 L1078.0,355.3 L1082.0,360.0 L1085.0,363.7 L1090.0,368.8 L1095.0,369.8 L1096.0,370.3 L1098.0,369.3 L1100.0,370.3 L1102.0,370.5 L1104.0,369.4 L1106.0,370.4 L1108.0,370.4 L1110.0,369.7 L1112.0,369.1 L1114.0,369.7 L1116.0,369.7 L1118.0,369.2 L1120.0,370.3 L1122.0,370.1 L1124.0,369.9 L1126.0,369.5 L1128.0,370.0 L1130.0,369.2 L1132.0,369.5 L1134.0,368.8 L1136.0,369.9 L1138.0,369.1 L1140.0,369.2 L1142.0,369.9 L1144.0,369.7 L1146.0,369.4 L1148.0,368.9 L1150.0,369.3 L1152.0,368.8 L1154.0,369.8 L1156.0,368.9 L1158.0,369.7 L1160.0,369.0 L1162.0,368.9 L1164.0,369.4 L1166.0,368.6 L1168.0,368.7 L1170.0,368.7 L1172.0,369.7 L1174.0,368.9 L1176.0,368.3 L1178.0,369.2 L1180.0,368.2 L1182.0,368.4 L1184.0,369.3 L1186.0,369.3 L1188.0,369.0 L1190.0,368.4 L1192.0,368.1 L1194.0,368.3 L1196.0,368.1 L1198.0,368.1 L1200.0,368.8 L1202.0,368.7 L1204.0,368.0 L1206.0,368.2 L1208.0,368.7 L1210.0,368.9 L1212.0,368.2 L1214.0,367.9 L1216.0,367.9 L1218.0,368.6 L1220.0,368.6 L1222.0,368.9" fill="none" stroke="#ee1111" stroke-width="4.5" stroke-linecap="butt" stroke-linejoin="round" opacity="1"/>
<line x1="734.2" y1="26.5" x2="742.7" y2="26.5" stroke="#000" stroke-width="3"/>
<text x="725.0" y="34.3" font-size="22.5" font-weight="normal" text-anchor="end" fill="#404040" >0.008</text>
<line x1="738.2" y1="74.8" x2="742.7" y2="74.8" stroke="#000" stroke-width="3"/>
<line x1="734.2" y1="123.2" x2="742.7" y2="123.2" stroke="#000" stroke-width="3"/>
<text x="725.0" y="131.0" font-size="22.5" font-weight="normal" text-anchor="end" fill="#404040" >0.000</text>
<line x1="738.2" y1="171.6" x2="742.7" y2="171.6" stroke="#000" stroke-width="3"/>
<line x1="734.2" y1="219.9" x2="742.7" y2="219.9" stroke="#000" stroke-width="3"/>
<text x="725.0" y="227.7" font-size="22.5" font-weight="normal" text-anchor="end" fill="#404040" >-0.008</text>
<line x1="738.2" y1="268.2" x2="742.7" y2="268.2" stroke="#000" stroke-width="3"/>
<line x1="734.2" y1="316.6" x2="742.7" y2="316.6" stroke="#000" stroke-width="3"/>
<text x="725.0" y="324.4" font-size="22.5" font-weight="normal" text-anchor="end" fill="#404040" >-0.016</text>
<line x1="738.2" y1="364.9" x2="742.7" y2="364.9" stroke="#000" stroke-width="3"/>
<line x1="734.2" y1="413.3" x2="742.7" y2="413.3" stroke="#000" stroke-width="3"/>
<text x="725.0" y="421.1" font-size="22.5" font-weight="normal" text-anchor="end" fill="#404040" >-0.024</text>
<line x1="742.7" y1="424.0" x2="742.7" y2="433.0" stroke="#000" stroke-width="3"/>
<text x="742.7" y="456.0" font-size="22.5" font-weight="normal" text-anchor="middle" fill="#404040" >0</text>
<line x1="775.0" y1="424.0" x2="775.0" y2="429.5" stroke="#000" stroke-width="3"/>
<line x1="807.3" y1="424.0" x2="807.3" y2="433.0" stroke="#000" stroke-width="3"/>
<text x="807.3" y="456.0" font-size="22.5" font-weight="normal" text-anchor="middle" fill="#404040" >50</text>
<line x1="839.6" y1="424.0" x2="839.6" y2="429.5" stroke="#000" stroke-width="3"/>
<line x1="871.9" y1="424.0" x2="871.9" y2="433.0" stroke="#000" stroke-width="3"/>
<text x="871.9" y="456.0" font-size="22.5" font-weight="normal" text-anchor="middle" fill="#404040" >100</text>
<line x1="904.1" y1="424.0" x2="904.1" y2="429.5" stroke="#000" stroke-width="3"/>
<line x1="936.4" y1="424.0" x2="936.4" y2="433.0" stroke="#000" stroke-width="3"/>
<text x="936.4" y="456.0" font-size="22.5" font-weight="normal" text-anchor="middle" fill="#404040" >150</text>
<line x1="968.7" y1="424.0" x2="968.7" y2="429.5" stroke="#000" stroke-width="3"/>
<line x1="1001.0" y1="424.0" x2="1001.0" y2="433.0" stroke="#000" stroke-width="3"/>
<text x="1001.0" y="456.0" font-size="22.5" font-weight="normal" text-anchor="middle" fill="#404040" >200</text>
<line x1="1033.3" y1="424.0" x2="1033.3" y2="429.5" stroke="#000" stroke-width="3"/>
<line x1="1065.6" y1="424.0" x2="1065.6" y2="433.0" stroke="#000" stroke-width="3"/>
<text x="1065.6" y="456.0" font-size="22.5" font-weight="normal" text-anchor="middle" fill="#404040" >250</text>
<line x1="1097.9" y1="424.0" x2="1097.9" y2="429.5" stroke="#000" stroke-width="3"/>
<line x1="1130.2" y1="424.0" x2="1130.2" y2="433.0" stroke="#000" stroke-width="3"/>
<text x="1130.2" y="456.0" font-size="22.5" font-weight="normal" text-anchor="middle" fill="#404040" >300</text>
<line x1="1162.4" y1="424.0" x2="1162.4" y2="429.5" stroke="#000" stroke-width="3"/>
<line x1="1194.7" y1="424.0" x2="1194.7" y2="433.0" stroke="#000" stroke-width="3"/>
<text x="1194.7" y="456.0" font-size="22.5" font-weight="normal" text-anchor="middle" fill="#404040" >350</text>
<line x1="1227.0" y1="424.0" x2="1227.0" y2="429.5" stroke="#000" stroke-width="3"/>
<line x1="1259.3" y1="424.0" x2="1259.3" y2="433.0" stroke="#000" stroke-width="3"/>
<text x="1259.3" y="456.0" font-size="22.5" font-weight="normal" text-anchor="middle" fill="#404040" >400</text>
<text x="761.0" y="40.2" font-size="29" font-weight="normal" text-anchor="start" fill="#111" letter-spacing="1.8" stroke="#111" stroke-width="0.5">(b)</text>
<text x="752.5" y="90.0" font-size="19" font-weight="bold" text-anchor="start" fill="#1a1a1a" textLength="179" lengthAdjust="spacingAndGlyphs">AA - Ascorbic acid</text>
<text x="752.5" y="115.8" font-size="19" font-weight="bold" text-anchor="start" fill="#1a1a1a" textLength="153.5" lengthAdjust="spacingAndGlyphs">OA - Oxalic acid</text>
<text x="779.7" y="175.8" font-size="26" fill="#111" stroke="#111" stroke-width="0.45">H<tspan font-size="15.5" fill="#4a4a4a" dx="0.6" dy="11.8">2</tspan><tspan dx="0.5" dy="-11.8">O</tspan><tspan font-size="15.5" fill="#4a4a4a" dx="1.7" dy="11.8">2</tspan></text>
<text x="1041.5" y="284.8" font-size="26" fill="#111" stroke="#111" stroke-width="0.45">H<tspan font-size="15.5" fill="#4a4a4a" dx="1.5" dy="11.8">2</tspan><tspan dx="0.2" dy="-11.8">O</tspan><tspan font-size="15.5" fill="#4a4a4a" dx="0.5" dy="11.8">2</tspan></text>
<text x="854.3" y="319.6" font-size="25" font-weight="bold" text-anchor="start" fill="#111" >AA</text>
<text x="910.8" y="326.7" font-size="25" font-weight="bold" text-anchor="start" fill="#111" >OA</text>
<text x="971.7" y="326.7" font-size="25" font-weight="bold" text-anchor="start" fill="#111" >OA</text>
<text x="1108.0" y="362.3" font-size="25" font-weight="bold" text-anchor="start" fill="#111" >AA</text>
<text x="1171.4" y="365.1" font-size="25" font-weight="bold" text-anchor="start" fill="#111" >OA</text>
<text x="1002.0" y="501.0" font-size="29" font-weight="bold" text-anchor="middle" fill="#000" >Time/s</text>
<text x="647.2" y="224.3" font-size="29.5" font-weight="bold" text-anchor="middle" fill="#000" transform="rotate(-90 647.2 224.3)">Current (mA)</text>
<ellipse cx="415" cy="600.6" rx="3" ry="2.4" fill="#2ee02e"/>
<ellipse cx="432" cy="585.5" rx="3" ry="2.4" fill="#2ee02e"/>
<ellipse cx="447.5" cy="584" rx="3" ry="2.4" fill="#2ee02e"/>
<ellipse cx="466.5" cy="582.6" rx="3" ry="2.4" fill="#2ee02e"/>
<ellipse cx="480" cy="582" rx="3" ry="2.4" fill="#2ee02e"/>
<ellipse cx="495" cy="581.5" rx="3" ry="2.4" fill="#2ee02e"/>
<ellipse cx="518.2" cy="580.4" rx="3" ry="2.4" fill="#2ee02e"/>
<ellipse cx="542" cy="580.4" rx="3" ry="2.4" fill="#2ee02e"/>
<ellipse cx="565.8" cy="580.4" rx="3" ry="2.4" fill="#2ee02e"/>
<ellipse cx="589.6" cy="580.4" rx="3" ry="2.4" fill="#2ee02e"/>
<ellipse cx="613.4" cy="580.4" rx="3" ry="2.4" fill="#2ee02e"/>
<ellipse cx="637.3" cy="580.4" rx="3" ry="2.4" fill="#2ee02e"/>
<ellipse cx="657" cy="585.3" rx="3" ry="2.4" fill="#2ee02e"/>
<ellipse cx="664.3" cy="605" rx="3" ry="2.4" fill="#2ee02e"/>
<ellipse cx="686.5" cy="597.6" rx="3" ry="2.4" fill="#2ee02e"/>
<ellipse cx="710.5" cy="593.8" rx="3" ry="2.4" fill="#2ee02e"/>
<ellipse cx="733.3" cy="592" rx="3" ry="2.4" fill="#2ee02e"/>
<ellipse cx="754.3" cy="590.5" rx="3" ry="2.4" fill="#2ee02e"/>
<ellipse cx="776" cy="589" rx="3" ry="2.4" fill="#2ee02e"/>
<ellipse cx="799" cy="588.6" rx="3" ry="2.4" fill="#2ee02e"/>
<ellipse cx="822" cy="588.4" rx="3" ry="2.4" fill="#2ee02e"/>
<ellipse cx="846.8" cy="588.4" rx="3" ry="2.4" fill="#2ee02e"/>
<ellipse cx="870.5" cy="588.4" rx="3" ry="2.4" fill="#2ee02e"/>
<ellipse cx="892" cy="592" rx="3" ry="2.4" fill="#2ee02e"/>
<ellipse cx="915" cy="594.5" rx="3" ry="2.4" fill="#2ee02e"/>
<ellipse cx="938" cy="595.2" rx="3" ry="2.4" fill="#2ee02e"/>
<path d="M411.5,592.0 L413.0,586.0 L414.5,583.0 L420.0,578.5 L426.0,577.0 L432.0,576.0" fill="none" stroke="#0a14e8" stroke-width="4.2" stroke-linecap="butt" stroke-linejoin="round" opacity="1"/>
<path d="M443.0,574.2 L460.0,572.5 L520.0,572.0 L600.0,571.5 L700.0,571.2 L944.0,571.8" fill="none" stroke="#0a14e8" stroke-width="4.2" stroke-linecap="butt" stroke-linejoin="round" stroke-dasharray="4.0 11.0 23.0 13.0 4.0 11.0 22.0 12.0 4.0 12.0 23.0 12.0 4.0 11.5 21.5 14.0 4.0 11.0 22.0 13.0 4.0 11.6 26.4 16.0 4.0 13.0 22.6 17.4 4.0 14.7 23.0 9.3 4.0 6.0 23.0 11.5 4.0 12.5 22.0 20.0" opacity="1"/>
<path d="M412.8,960.6 L412.8,958.4 L412.8,956.3 L412.8,955.4 L412.8,954.6 L412.8,953.3 L412.8,950.8 L412.8,949.1 L412.8,948.8 L412.8,946.6 L412.8,944.2 L412.8,944.0 L412.8,941.3 L412.8,941.0 L412.8,939.4 L412.8,938.1 L412.8,936.0 L412.8,933.7 L412.8,932.1 L412.8,930.6 L412.8,929.7 L412.8,928.7 L412.8,927.0 L412.8,924.8 L412.8,924.6 L412.8,921.6 L412.8,920.8 L412.8,920.0 L412.8,917.8 L412.8,915.9 L412.8,914.8 L412.8,913.6 L412.8,911.9 L412.8,910.4 L412.8,908.7 L412.8,907.5 L412.8,906.1 L412.8,904.8 L412.8,902.4 L412.8,901.4 L412.8,899.6 L412.8,897.9 L412.8,896.1 L412.8,894.5 L412.8,893.1 L412.8,893.1 L412.8,891.6 L412.8,889.5 L412.8,887.8 L412.8,886.2 L412.8,885.1 L412.8,882.9 L412.8,882.3 L412.8,879.6 L412.8,879.1 L412.8,877.2 L412.8,876.1 L412.8,873.6 L412.8,872.7 L412.8,870.7 L412.8,869.9 L412.8,868.3 L412.8,867.5 L412.8,865.5 L412.8,862.9 L412.8,861.6 L412.8,861.0 L412.8,859.8 L412.8,857.7 L412.8,856.5 L412.8,854.3 L412.8,852.9 L412.8,852.1 L412.8,849.4 L412.8,848.5 L412.8,846.9 L412.8,846.0 L412.8,844.2 L412.8,843.4 L412.8,841.5 L412.8,839.0 L412.8,838.8 L412.8,836.5 L412.8,835.2 L412.8,832.8 L412.8,832.9 L412.8,831.0 L412.8,829.4 L412.8,827.0 L412.8,826.2 L412.8,824.3 L412.8,823.8 L412.8,822.4 L412.8,819.6 L412.8,818.5 L412.8,817.9 L412.8,816.3 L412.8,813.4 L412.8,813.2 L412.8,810.9 L412.8,809.8 L412.8,807.3 L412.8,807.5 L412.8,805.8 L412.8,802.9 L412.8,801.9 L412.8,801.0 L412.8,799.0 L412.8,798.3 L412.8,796.6 L412.8,794.3 L412.8,793.9 L412.8,791.5 L412.8,790.7 L412.8,789.3 L412.8,787.9 L412.8,786.4 L412.8,784.8 L412.8,782.1 L412.8,781.7 L412.8,779.6 L412.8,778.7 L412.8,776.3 L412.8,775.7 L412.8,774.0 L412.8,772.3 L412.8,770.8 L412.8,769.8 L412.8,766.8 L412.8,765.7 L412.8,763.7 L412.8,763.0 L412.8,761.0 L412.8,760.1 L412.8,759.3 L412.8,757.1 L412.8,755.5 L412.8,754.0 L412.9,753.2 L412.9,751.8 L412.9,749.2 L412.9,748.3 L412.9,746.0 L412.9,744.4 L412.9,743.2 L412.9,742.8 L412.9,741.4 L412.9,738.4 L412.9,737.9 L413.0,736.1 L413.0,733.7 L413.0,732.2 L413.0,731.0 L413.0,730.0 L413.0,729.0 L413.0,726.5 L413.0,725.1 L413.0,723.4 L413.1,721.7 L413.1,721.3 L413.1,720.1 L413.1,718.3 L413.1,717.4 L413.1,714.7 L413.1,712.9 L413.1,712.7 L413.1,710.8 L413.1,709.0 L413.1,708.0 L413.2,706.0 L413.2,704.8 L413.2,702.4 L413.2,701.6 L413.2,700.6 L413.2,698.4 L413.3,696.5 L413.3,696.1 L413.4,694.4 L413.4,692.4 L413.4,690.1 L413.5,689.5 L413.5,688.1 L413.6,686.5 L413.6,684.9 L413.6,683.3 L413.7,681.7 L413.7,679.7 L413.8,678.2 L413.8,677.4 L413.8,674.9 L413.9,673.4 L413.9,673.0 L413.9,670.4 L414.0,669.7 L414.0,668.8 L414.1,666.6 L414.1,664.3 L414.1,664.5 L414.2,662.9 L414.2,660.2 L414.3,659.1 L414.3,658.1 L414.3,656.3 L414.4,653.9 L414.4,653.3 L414.5,650.7 L414.5,650.5 L414.7,648.5 L414.8,646.7 L415.0,645.0 L415.1,642.9 L415.3,641.9 L415.4,640.2 L415.6,639.4 L415.8,637.3 L415.9,635.1 L416.1,635.0 L416.2,633.6 L416.4,632.1 L416.5,628.9 L416.7,627.5 L416.8,626.6 L417.0,624.3 L417.6,622.8 L418.2,622.0 L418.8,619.8 L419.4,619.6 L420.0,616.4 L421.0,615.6 L422.0,614.8 L423.0,613.2 L424.0,611.4 L426.0,610.1 L428.0,609.2 L429.5,609.2 L431.0,609.9 L432.5,610.1 L434.0,608.9 L435.5,610.6 L437.0,610.1 L438.5,610.2 L440.0,610.1 L441.5,608.7 L443.1,608.6 L444.6,608.4 L446.2,609.0 L447.7,608.4 L449.2,608.6 L450.8,609.0 L452.3,608.7 L453.8,609.0 L455.4,607.7 L456.9,608.9 L458.5,608.5 L460.0,608.0 L461.5,607.2 L463.0,608.1 L464.5,607.5 L466.0,607.2 L467.5,607.6 L469.0,606.7 L470.5,606.6 L472.0,606.5 L473.5,605.4 L475.0,605.2 L476.7,605.4 L478.3,606.3 L480.0,607.1 L481.7,606.1 L483.3,605.5 L485.0,606.2 L486.7,605.8 L488.3,605.5 L490.0,604.2 L491.5,603.8 L493.1,604.8 L494.6,605.1 L496.2,604.3 L497.7,604.0 L499.2,603.2 L500.8,604.8 L502.3,604.5 L503.8,603.1 L505.4,602.8 L506.9,602.8 L508.5,602.6 L510.0,603.8 L511.7,602.8 L513.3,602.5 L515.0,603.0 L516.7,603.0 L518.3,602.0 L520.0,602.8 L521.5,601.9 L523.1,602.0 L524.6,602.1 L526.2,601.8 L527.7,603.1 L529.2,602.6 L530.8,602.8 L532.3,602.6 L533.8,602.5 L535.4,602.3 L536.9,602.6 L538.5,602.5 L540.0,601.4 L541.5,601.4 L543.1,602.0 L544.6,602.2 L546.2,601.0 L547.7,601.6 L549.2,602.0 L550.8,602.0 L552.3,601.1 L553.8,600.6 L555.4,600.8 L556.9,600.2 L558.5,600.7 L560.0,600.2 L561.5,600.1 L563.1,601.1 L564.6,600.2 L566.2,601.3 L567.7,601.2 L569.2,600.4 L570.8,599.8 L572.3,600.5 L573.8,599.6 L575.4,600.7 L576.9,599.8 L578.5,600.6 L580.0,600.2 L581.5,601.0 L583.1,599.5 L584.6,599.6 L586.2,599.7 L587.7,600.7 L589.2,599.8 L590.8,600.1 L592.3,600.5 L593.8,599.8 L595.4,600.3 L596.9,600.5 L598.5,599.8 L600.0,600.1 L601.5,599.3 L603.0,600.7 L604.5,600.7 L606.1,600.5 L607.6,600.5 L609.1,599.3 L610.6,599.4 L612.1,599.8 L613.6,599.2 L615.2,599.0 L616.7,600.2 L618.2,599.9 L619.7,600.5 L621.2,600.2 L622.7,598.9 L624.2,599.8 L625.8,600.1 L627.3,599.4 L628.8,599.4 L630.3,598.8 L631.8,599.6 L633.3,598.9 L634.8,599.6 L636.4,600.3 L637.9,599.6 L639.4,599.9 L640.9,599.4 L642.4,599.7 L643.9,599.8 L645.5,598.9 L647.0,599.9 L648.5,598.4 L650.0,599.3 L650.1,600.1 L650.3,601.5 L650.4,603.6 L650.6,606.1 L650.7,606.4 L650.9,607.6 L651.0,609.7 L651.1,610.8 L651.1,613.0 L651.2,613.8 L651.3,615.4 L651.4,618.2 L651.5,618.4 L651.5,621.2 L651.6,622.6 L651.7,623.6 L651.8,624.3 L651.8,625.9 L651.9,627.5 L652.0,630.1 L652.0,630.3 L652.1,632.4 L652.2,633.8 L652.3,635.3 L652.4,637.6 L652.4,639.2 L652.5,640.8 L652.6,642.4 L652.6,643.0 L652.7,645.5 L652.8,647.1 L652.8,648.9 L652.9,649.7 L652.9,651.4 L653.0,653.5 L654.0,651.2 L655.0,650.4 L656.0,649.1 L657.0,647.7 L658.0,647.3 L659.5,646.8 L661.0,646.5 L662.5,645.7 L664.0,644.5 L665.5,645.5 L667.0,644.9 L668.5,644.5 L670.0,643.4 L671.5,642.9 L673.1,642.5 L674.6,644.0 L676.2,644.0 L677.7,643.7 L679.2,644.6 L680.8,644.0 L682.3,644.8 L683.8,644.9 L685.4,644.3 L686.9,643.5 L688.5,645.0 L690.0,645.1 L691.5,643.9 L693.1,643.1 L694.6,642.7 L696.2,642.3 L697.7,643.0 L699.2,642.1 L700.8,641.8 L702.3,641.5 L703.8,641.5 L705.4,640.0 L706.9,640.0 L708.5,638.8 L710.0,639.0 L711.6,638.4 L713.1,638.5 L714.7,638.9 L716.2,640.4 L717.8,640.5 L719.4,640.3 L720.9,639.4 L722.5,639.5 L724.1,640.6 L725.6,640.8 L727.2,640.3 L728.8,641.3 L730.3,639.8 L731.9,641.0 L733.4,641.1 L735.0,641.1 L736.5,640.8 L738.1,641.1 L739.6,640.5 L741.2,641.9 L742.7,640.3 L744.2,640.6 L745.8,641.1 L747.3,641.5 L748.8,641.4 L750.4,640.2 L751.9,640.8 L753.5,641.1 L755.0,640.1 L756.4,640.1 L757.9,639.2 L759.3,638.1 L760.7,637.5 L762.1,636.6 L763.6,636.2 L765.0,635.2 L766.5,634.9 L768.1,635.5 L769.6,634.7 L771.2,634.8 L772.7,635.0 L774.2,636.0 L775.8,635.6 L777.3,634.7 L778.8,635.9 L780.4,635.7 L781.9,635.1 L783.5,635.4 L785.0,635.6 L786.5,634.4 L788.0,635.4 L789.5,634.9 L791.0,635.8 L792.5,634.9 L794.0,636.0 L795.5,634.8 L797.0,635.4 L798.5,635.2 L800.0,635.5 L801.5,635.2 L803.1,635.5 L804.6,635.2 L806.2,635.0 L807.7,635.3 L809.2,635.8 L810.8,635.8 L812.3,636.4 L813.8,635.3 L815.4,635.2 L816.9,634.7 L818.5,636.2 L820.0,635.3 L821.6,635.3 L823.1,635.9 L824.7,635.4 L826.2,635.0 L827.8,635.1 L829.4,634.3 L830.9,634.9 L832.5,633.3 L834.1,634.0 L835.6,633.2 L837.2,633.8 L838.8,633.6 L840.3,633.5 L841.9,632.6 L843.4,632.5 L845.0,632.1 L846.5,633.1 L848.0,634.0 L848.6,635.2 L849.1,637.3 L849.7,639.1 L850.3,640.2 L850.9,641.2 L851.4,643.8 L852.0,643.7 L852.6,645.7 L853.1,647.7 L853.7,648.9 L854.3,650.6 L854.9,651.9 L855.4,652.9 L856.0,654.6 L857.6,656.0 L859.1,655.0 L860.7,655.6 L862.2,656.5 L863.8,657.9 L865.3,658.1 L866.9,658.3 L868.4,658.7 L870.0,659.1 L871.7,660.6 L873.3,660.1 L875.0,660.5 L876.7,660.4 L878.3,660.8 L880.0,661.0 L881.5,660.3 L882.9,660.0 L884.4,660.0 L885.9,658.8 L887.4,659.9 L888.8,658.9 L890.3,657.5 L891.8,658.0 L893.2,658.3 L894.7,656.9 L896.2,657.7 L897.6,656.6 L899.1,655.3 L900.6,655.7 L902.1,655.3 L903.5,655.3 L905.0,655.5 L906.0,653.6 L907.0,652.9 L908.0,652.8 L909.0,654.3 L910.0,655.3 L911.5,656.8 L913.1,655.7 L914.6,656.6 L916.2,656.3 L917.7,656.6 L919.3,657.0 L920.8,657.2 L922.4,657.4 L923.9,657.8 L925.5,657.8 L927.0,658.6 L928.5,658.7 L930.1,657.8 L931.6,658.4 L933.2,658.8 L934.7,658.4 L936.3,659.7 L937.8,659.5 L939.4,660.0 L940.9,658.9 L942.5,659.6 L944.0,660.0" fill="none" stroke="#000" stroke-width="3.9" stroke-linecap="butt" stroke-linejoin="round" opacity="1"/>
<path d="M414.5,640.0 L416.0,629.0 L418.0,620.0" fill="none" stroke="#ee1111" stroke-width="4.4" stroke-linecap="butt" stroke-linejoin="round" opacity="1"/>
<path d="M428.0,601.0 L436.0,599.2 L445.0,597.7" fill="none" stroke="#ee1111" stroke-width="4.4" stroke-linecap="butt" stroke-linejoin="round" opacity="1"/>
<path d="M463.0,595.2 L480.0,595.0" fill="none" stroke="#ee1111" stroke-width="4.4" stroke-linecap="butt" stroke-linejoin="round" opacity="1"/>
<path d="M499.7,594.8 L517.3,594.8" fill="none" stroke="#ee1111" stroke-width="4.4" stroke-linecap="butt" stroke-linejoin="round" opacity="1"/>
<path d="M534.1,594.6 L550.3,594.9" fill="none" stroke="#ee1111" stroke-width="4.4" stroke-linecap="butt" stroke-linejoin="round" opacity="1"/>
<path d="M565.8,594.8 L583.4,594.6" fill="none" stroke="#ee1111" stroke-width="4.4" stroke-linecap="butt" stroke-linejoin="round" opacity="1"/>
<path d="M599.5,594.8 L617.8,594.7" fill="none" stroke="#ee1111" stroke-width="4.4" stroke-linecap="butt" stroke-linejoin="round" opacity="1"/>
<path d="M635.4,594.8 L648.8,594.8 L651.0,597.5" fill="none" stroke="#ee1111" stroke-width="4.4" stroke-linecap="butt" stroke-linejoin="round" opacity="1"/>
<path d="M657.0,622.8 L661.0,633.0 L665.0,642.5" fill="none" stroke="#ee1111" stroke-width="4.4" stroke-linecap="butt" stroke-linejoin="round" opacity="1"/>
<path d="M672.0,665.7 L681.0,663.8 L690.0,662.2" fill="none" stroke="#ee1111" stroke-width="4.4" stroke-linecap="butt" stroke-linejoin="round" opacity="1"/>
<path d="M695.0,662.0 L703.0,660.5 L712.0,659.0" fill="none" stroke="#ee1111" stroke-width="4.4" stroke-linecap="butt" stroke-linejoin="round" opacity="1"/>
<path d="M730.0,658.7 L747.0,660.5" fill="none" stroke="#ee1111" stroke-width="4.4" stroke-linecap="butt" stroke-linejoin="round" opacity="1"/>
<path d="M763.0,658.0 L780.0,656.0" fill="none" stroke="#ee1111" stroke-width="4.4" stroke-linecap="butt" stroke-linejoin="round" opacity="1"/>
<path d="M798.0,656.0 L815.0,657.5" fill="none" stroke="#ee1111" stroke-width="4.4" stroke-linecap="butt" stroke-linejoin="round" opacity="1"/>
<path d="M833.6,656.0 L850.0,655.8" fill="none" stroke="#ee1111" stroke-width="4.4" stroke-linecap="butt" stroke-linejoin="round" opacity="1"/>
<path d="M865.0,665.4 L870.0,672.5 L875.0,680.2" fill="none" stroke="#ee1111" stroke-width="4.4" stroke-linecap="butt" stroke-linejoin="round" opacity="1"/>
<path d="M883.0,700.4 L890.0,697.0 L898.0,693.0" fill="none" stroke="#ee1111" stroke-width="4.4" stroke-linecap="butt" stroke-linejoin="round" opacity="1"/>
<path d="M917.0,688.7 L925.0,689.8 L933.0,690.9" fill="none" stroke="#ee1111" stroke-width="4.4" stroke-linecap="butt" stroke-linejoin="round" opacity="1"/>
<path d="M441.0,602.0 L445.0,601.8" fill="none" stroke="#1eecf2" stroke-width="4.4" stroke-linecap="butt" stroke-linejoin="round" opacity="1"/>
<path d="M456.0,600.4 L465.0,600.2 L475.0,600.0" fill="none" stroke="#1eecf2" stroke-width="4.4" stroke-linecap="butt" stroke-linejoin="round" opacity="1"/>
<path d="M482.0,599.0 L486.0,599.0" fill="none" stroke="#1eecf2" stroke-width="4.4" stroke-linecap="butt" stroke-linejoin="round" opacity="1"/>
<path d="M496.0,598.5 L500.0,598.5" fill="none" stroke="#1eecf2" stroke-width="4.4" stroke-linecap="butt" stroke-linejoin="round" opacity="1"/>
<path d="M509.5,599.0 L515.0,601.0 L520.8,603.0" fill="none" stroke="#1eecf2" stroke-width="4.4" stroke-linecap="butt" stroke-linejoin="round" opacity="1"/>
<path d="M532.0,605.3 L537.7,605.3" fill="none" stroke="#1eecf2" stroke-width="4.4" stroke-linecap="butt" stroke-linejoin="round" opacity="1"/>
<path d="M544.7,605.0 L550.3,605.0" fill="none" stroke="#1eecf2" stroke-width="4.4" stroke-linecap="butt" stroke-linejoin="round" opacity="1"/>
<path d="M558.8,604.5 L577.0,604.5" fill="none" stroke="#1eecf2" stroke-width="4.4" stroke-linecap="butt" stroke-linejoin="round" opacity="1"/>
<path d="M584.0,604.5 L588.3,604.5" fill="none" stroke="#1eecf2" stroke-width="4.4" stroke-linecap="butt" stroke-linejoin="round" opacity="1"/>
<path d="M595.3,604.5 L601.0,604.5" fill="none" stroke="#1eecf2" stroke-width="4.4" stroke-linecap="butt" stroke-linejoin="round" opacity="1"/>
<path d="M610.8,604.5 L627.7,604.5" fill="none" stroke="#1eecf2" stroke-width="4.4" stroke-linecap="butt" stroke-linejoin="round" opacity="1"/>
<path d="M635.0,605.0 L638.0,606.4" fill="none" stroke="#1eecf2" stroke-width="4.4" stroke-linecap="butt" stroke-linejoin="round" opacity="1"/>
<path d="M637.5,621.0 L637.6,627.0" fill="none" stroke="#1eecf2" stroke-width="4.4" stroke-linecap="butt" stroke-linejoin="round" opacity="1"/>
<path d="M638.0,637.0 L639.0,655.0" fill="none" stroke="#1eecf2" stroke-width="4.4" stroke-linecap="butt" stroke-linejoin="round" opacity="1"/>
<path d="M640.0,665.0 L640.3,670.0" fill="none" stroke="#1eecf2" stroke-width="4.4" stroke-linecap="butt" stroke-linejoin="round" opacity="1"/>
<path d="M641.0,681.0 L641.3,686.0" fill="none" stroke="#1eecf2" stroke-width="4.4" stroke-linecap="butt" stroke-linejoin="round" opacity="1"/>
<path d="M642.0,693.0 L644.5,711.0 L647.0,707.0" fill="none" stroke="#1eecf2" stroke-width="4.4" stroke-linecap="butt" stroke-linejoin="round" opacity="1"/>
<path d="M652.0,697.0 L654.5,694.0" fill="none" stroke="#1eecf2" stroke-width="4.4" stroke-linecap="butt" stroke-linejoin="round" opacity="1"/>
<path d="M663.0,685.5 L667.0,684.5" fill="none" stroke="#1eecf2" stroke-width="4.4" stroke-linecap="butt" stroke-linejoin="round" opacity="1"/>
<path d="M678.0,683.5 L690.0,683.0" fill="none" stroke="#1eecf2" stroke-width="4.4" stroke-linecap="butt" stroke-linejoin="round" opacity="1"/>
<path d="M698.0,682.0 L706.0,681.0 L715.0,680.0" fill="none" stroke="#1eecf2" stroke-width="4.4" stroke-linecap="butt" stroke-linejoin="round" opacity="1"/>
<path d="M726.0,680.5 L730.0,680.3" fill="none" stroke="#1eecf2" stroke-width="4.4" stroke-linecap="butt" stroke-linejoin="round" opacity="1"/>
<path d="M740.0,678.0 L744.0,677.7" fill="none" stroke="#1eecf2" stroke-width="4.4" stroke-linecap="butt" stroke-linejoin="round" opacity="1"/>
<path d="M752.0,677.7 L761.0,677.5 L770.0,677.7" fill="none" stroke="#1eecf2" stroke-width="4.4" stroke-linecap="butt" stroke-linejoin="round" opacity="1"/>
<path d="M779.0,676.3 L783.0,676.1" fill="none" stroke="#1eecf2" stroke-width="4.4" stroke-linecap="butt" stroke-linejoin="round" opacity="1"/>
<path d="M793.0,673.6 L797.0,673.4" fill="none" stroke="#1eecf2" stroke-width="4.4" stroke-linecap="butt" stroke-linejoin="round" opacity="1"/>
<path d="M808.0,674.0 L817.0,674.3 L826.0,674.0" fill="none" stroke="#1eecf2" stroke-width="4.4" stroke-linecap="butt" stroke-linejoin="round" opacity="1"/>
<path d="M835.0,674.0 L839.0,674.0" fill="none" stroke="#1eecf2" stroke-width="4.4" stroke-linecap="butt" stroke-linejoin="round" opacity="1"/>
<path d="M848.0,674.0 L852.0,674.0" fill="none" stroke="#1eecf2" stroke-width="4.4" stroke-linecap="butt" stroke-linejoin="round" opacity="1"/>
<path d="M860.6,670.7 L860.8,680.0" fill="none" stroke="#1eecf2" stroke-width="4.4" stroke-linecap="butt" stroke-linejoin="round" opacity="1"/>
<path d="M861.0,688.7 L861.3,701.5" fill="none" stroke="#1eecf2" stroke-width="4.4" stroke-linecap="butt" stroke-linejoin="round" opacity="1"/>
<path d="M861.6,708.0 L863.0,722.7 L868.0,717.0 L874.0,714.5" fill="none" stroke="#1eecf2" stroke-width="4.4" stroke-linecap="butt" stroke-linejoin="round" opacity="1"/>
<path d="M887.0,715.3 L891.0,715.2" fill="none" stroke="#1eecf2" stroke-width="4.4" stroke-linecap="butt" stroke-linejoin="round" opacity="1"/>
<path d="M898.0,715.0 L902.0,714.8" fill="none" stroke="#1eecf2" stroke-width="4.4" stroke-linecap="butt" stroke-linejoin="round" opacity="1"/>
<path d="M914.7,713.0 L923.0,711.5 L931.7,710.0" fill="none" stroke="#1eecf2" stroke-width="4.4" stroke-linecap="butt" stroke-linejoin="round" opacity="1"/>
<path d="M940.0,709.5 L943.0,709.4" fill="none" stroke="#1eecf2" stroke-width="4.4" stroke-linecap="butt" stroke-linejoin="round" opacity="1"/>
<path d="M414.0,800.0 L415.0,700.0 L416.0,650.0 L418.0,622.0 L421.0,615.4 L426.0,609.6 L432.0,604.7" fill="none" stroke="#1eecf2" stroke-width="4.2" stroke-linecap="butt" stroke-linejoin="round" stroke-dasharray="7 5" opacity="1"/>
<line x1="413.2" y1="566.0" x2="413.2" y2="960.0" stroke="#2ad6e0" stroke-width="3.4"/>
<path d="M411.5,592.0 L413.0,586.0 L414.5,583.0 L420.0,578.5" fill="none" stroke="#0a14e8" stroke-width="4.2" stroke-linecap="butt" stroke-linejoin="round" opacity="1"/>
<path d="M413.5,955.0 L413.5,640.0" fill="none" stroke="#ee1111" stroke-width="2.4" stroke-linecap="butt" stroke-linejoin="round" stroke-dasharray="5 40" opacity="1"/>
<rect x="468.8" y="691.5" width="265.7" height="213.0" fill="none" stroke="#000" stroke-width="2.6"/>
<line x1="464.3" y1="904.2" x2="468.8" y2="904.2" stroke="#000" stroke-width="2.2"/>
<text x="461.3" y="908.5" font-size="16" fill="#555" text-anchor="end">4</text>
<line x1="465.8" y1="877.6" x2="468.8" y2="877.6" stroke="#000" stroke-width="2.2"/>
<line x1="464.3" y1="851.0" x2="468.8" y2="851.0" stroke="#000" stroke-width="2.2"/>
<text x="461.3" y="855.3" font-size="16" fill="#555" text-anchor="end">5</text>
<line x1="465.8" y1="824.4" x2="468.8" y2="824.4" stroke="#000" stroke-width="2.2"/>
<line x1="464.3" y1="797.8" x2="468.8" y2="797.8" stroke="#000" stroke-width="2.2"/>
<text x="461.3" y="802.1" font-size="16" fill="#555" text-anchor="end">6</text>
<line x1="465.8" y1="771.2" x2="468.8" y2="771.2" stroke="#000" stroke-width="2.2"/>
<line x1="464.3" y1="744.6" x2="468.8" y2="744.6" stroke="#000" stroke-width="2.2"/>
<text x="461.3" y="748.9" font-size="16" fill="#555" text-anchor="end">7</text>
<line x1="465.8" y1="718.0" x2="468.8" y2="718.0" stroke="#000" stroke-width="2.2"/>
<line x1="464.3" y1="691.4" x2="468.8" y2="691.4" stroke="#000" stroke-width="2.2"/>
<text x="461.3" y="695.7" font-size="16" fill="#555" text-anchor="end">8</text>
<line x1="468.1" y1="904.5" x2="468.1" y2="908.5" stroke="#000" stroke-width="2.2"/>
<line x1="501.4" y1="904.5" x2="501.4" y2="908.5" stroke="#000" stroke-width="2.2"/>
<line x1="534.7" y1="904.5" x2="534.7" y2="908.5" stroke="#000" stroke-width="2.2"/>
<line x1="568.0" y1="904.5" x2="568.0" y2="908.5" stroke="#000" stroke-width="2.2"/>
<line x1="601.3" y1="904.5" x2="601.3" y2="908.5" stroke="#000" stroke-width="2.2"/>
<line x1="634.6" y1="904.5" x2="634.6" y2="908.5" stroke="#000" stroke-width="2.2"/>
<line x1="667.9" y1="904.5" x2="667.9" y2="908.5" stroke="#000" stroke-width="2.2"/>
<line x1="701.2" y1="904.5" x2="701.2" y2="908.5" stroke="#000" stroke-width="2.2"/>
<line x1="734.5" y1="904.5" x2="734.5" y2="908.5" stroke="#000" stroke-width="2.2"/>
<text x="501.4" y="927.6" font-size="20" font-weight="normal" text-anchor="middle" fill="#454545" >EDA</text>
<text x="568.0" y="927.6" font-size="20" font-weight="normal" text-anchor="middle" fill="#454545" >CNT</text>
<text x="634.6" y="927.6" font-size="20" font-weight="normal" text-anchor="middle" fill="#454545" >DMA</text>
<text x="701.2" y="927.6" font-size="20" font-weight="normal" text-anchor="middle" fill="#454545" >TEA</text>
<path d="M501.4,888.2 L568.0,771.2 L634.6,755.2 L701.2,696.7" fill="none" stroke="#111" stroke-width="2.0" stroke-linecap="butt" stroke-linejoin="round" opacity="1"/>
<rect x="497.9" y="884.7" width="7" height="7" fill="#111"/>
<rect x="564.5" y="767.7" width="7" height="7" fill="#111"/>
<rect x="631.1" y="751.7" width="7" height="7" fill="#111"/>
<rect x="697.7" y="693.2" width="7" height="7" fill="#111"/>
<text x="483.0" y="876.0" font-size="19.5" font-weight="bold" text-anchor="start" fill="#1a1a1a" >4.3</text>
<text x="537.5" y="761.0" font-size="19.5" font-weight="bold" text-anchor="start" fill="#1a1a1a" >6.5</text>
<text x="613.2" y="738.7" font-size="19.5" font-weight="bold" text-anchor="start" fill="#1a1a1a" >6.8</text>
<text x="690.3" y="730.3" font-size="19.5" font-weight="bold" text-anchor="start" fill="#1a1a1a" >7.9</text>
<text x="600.9" y="951.4" font-size="18.5" font-weight="bold" text-anchor="middle" fill="#333" textLength="229" lengthAdjust="spacingAndGlyphs">Modified GCE electrodes</text>
<text x="439.6" y="812.0" font-size="16.8" font-weight="bold" text-anchor="middle" fill="#333" textLength="157" lengthAdjust="spacingAndGlyphs" transform="rotate(-90 439.6 812)">Response time/s</text>
<rect x="410.5" y="528.8" width="534.0" height="432.4000000000001" fill="none" stroke="#000" stroke-width="3.5" stroke-linejoin="round"/>
<line x1="405.0" y1="542.3" x2="410.5" y2="542.3" stroke="#000" stroke-width="3.2"/>
<line x1="400.5" y1="568.5" x2="410.5" y2="568.5" stroke="#000" stroke-width="3.2"/>
<text x="396.8" y="575.3" font-size="26" font-weight="normal" text-anchor="end" fill="#404040" >0.00</text>
<line x1="405.0" y1="594.7" x2="410.5" y2="594.7" stroke="#000" stroke-width="3.2"/>
<line x1="400.5" y1="620.9" x2="410.5" y2="620.9" stroke="#000" stroke-width="3.2"/>
<text x="396.8" y="627.7" font-size="26" font-weight="normal" text-anchor="end" fill="#404040" >-0.02</text>
<line x1="405.0" y1="647.0" x2="410.5" y2="647.0" stroke="#000" stroke-width="3.2"/>
<line x1="400.5" y1="673.2" x2="410.5" y2="673.2" stroke="#000" stroke-width="3.2"/>
<text x="396.8" y="680.0" font-size="26" font-weight="normal" text-anchor="end" fill="#404040" >-0.04</text>
<line x1="405.0" y1="699.4" x2="410.5" y2="699.4" stroke="#000" stroke-width="3.2"/>
<line x1="400.5" y1="725.6" x2="410.5" y2="725.6" stroke="#000" stroke-width="3.2"/>
<text x="396.8" y="732.4" font-size="26" font-weight="normal" text-anchor="end" fill="#404040" >-0.06</text>
<line x1="405.0" y1="751.8" x2="410.5" y2="751.8" stroke="#000" stroke-width="3.2"/>
<line x1="400.5" y1="777.9" x2="410.5" y2="777.9" stroke="#000" stroke-width="3.2"/>
<text x="396.8" y="784.7" font-size="26" font-weight="normal" text-anchor="end" fill="#404040" >-0.08</text>
<line x1="405.0" y1="804.1" x2="410.5" y2="804.1" stroke="#000" stroke-width="3.2"/>
<line x1="400.5" y1="830.3" x2="410.5" y2="830.3" stroke="#000" stroke-width="3.2"/>
<text x="396.8" y="837.1" font-size="26" font-weight="normal" text-anchor="end" fill="#404040" >-0.10</text>
<line x1="405.0" y1="856.5" x2="410.5" y2="856.5" stroke="#000" stroke-width="3.2"/>
<line x1="400.5" y1="882.7" x2="410.5" y2="882.7" stroke="#000" stroke-width="3.2"/>
<text x="396.8" y="889.5" font-size="26" font-weight="normal" text-anchor="end" fill="#404040" >-0.12</text>
<line x1="405.0" y1="908.8" x2="410.5" y2="908.8" stroke="#000" stroke-width="3.2"/>
<line x1="400.5" y1="935.0" x2="410.5" y2="935.0" stroke="#000" stroke-width="3.2"/>
<text x="396.8" y="941.8" font-size="26" font-weight="normal" text-anchor="end" fill="#404040" >-0.14</text>
<line x1="410.5" y1="961.2" x2="410.5" y2="972.2" stroke="#000" stroke-width="3.2"/>
<text x="410.5" y="996.2" font-size="25.5" font-weight="normal" text-anchor="middle" fill="#404040" >0</text>
<line x1="455.0" y1="961.2" x2="455.0" y2="968.2" stroke="#000" stroke-width="3.2"/>
<line x1="499.6" y1="961.2" x2="499.6" y2="972.2" stroke="#000" stroke-width="3.2"/>
<text x="499.6" y="996.2" font-size="25.5" font-weight="normal" text-anchor="middle" fill="#404040" >20</text>
<line x1="544.1" y1="961.2" x2="544.1" y2="968.2" stroke="#000" stroke-width="3.2"/>
<line x1="588.6" y1="961.2" x2="588.6" y2="972.2" stroke="#000" stroke-width="3.2"/>
<text x="588.6" y="996.2" font-size="25.5" font-weight="normal" text-anchor="middle" fill="#404040" >40</text>
<line x1="633.1" y1="961.2" x2="633.1" y2="968.2" stroke="#000" stroke-width="3.2"/>
<line x1="677.7" y1="961.2" x2="677.7" y2="972.2" stroke="#000" stroke-width="3.2"/>
<text x="677.7" y="996.2" font-size="25.5" font-weight="normal" text-anchor="middle" fill="#404040" >60</text>
<line x1="722.2" y1="961.2" x2="722.2" y2="968.2" stroke="#000" stroke-width="3.2"/>
<line x1="766.7" y1="961.2" x2="766.7" y2="972.2" stroke="#000" stroke-width="3.2"/>
<text x="766.7" y="996.2" font-size="25.5" font-weight="normal" text-anchor="middle" fill="#404040" >80</text>
<line x1="811.3" y1="961.2" x2="811.3" y2="968.2" stroke="#000" stroke-width="3.2"/>
<line x1="855.8" y1="961.2" x2="855.8" y2="972.2" stroke="#000" stroke-width="3.2"/>
<text x="855.8" y="996.2" font-size="25.5" font-weight="normal" text-anchor="middle" fill="#404040" >100</text>
<line x1="900.3" y1="961.2" x2="900.3" y2="968.2" stroke="#000" stroke-width="3.2"/>
<line x1="944.9" y1="961.2" x2="944.9" y2="972.2" stroke="#000" stroke-width="3.2"/>
<text x="944.9" y="996.2" font-size="25.5" font-weight="normal" text-anchor="middle" fill="#404040" >120</text>
<text x="414.6" y="562.0" font-size="30.5" font-weight="normal" text-anchor="start" fill="#111" letter-spacing="1.6" stroke="#111" stroke-width="0.5">(c)</text>
<text x="647.5" y="1031.9" font-size="33" font-weight="bold" text-anchor="middle" fill="#000" >Time /s</text>
<text x="316.5" y="765.8" font-size="34" font-weight="bold" text-anchor="middle" fill="#000" transform="rotate(-90 316.5 765.8)">Current (mA)</text>
<text x="905.2" y="562.2" font-size="24" font-weight="bold" text-anchor="middle" fill="#222" >(i)</text>
<text x="905.2" y="603.2" font-size="24" font-weight="bold" text-anchor="middle" fill="#222" >(ii)</text>
<text x="905.2" y="640.2" font-size="24" font-weight="bold" text-anchor="middle" fill="#222" >(iii)</text>
<text x="900.4" y="682.2" font-size="24" font-weight="bold" text-anchor="middle" fill="#222" >(iv)</text>
<text x="898.2" y="744.9" font-size="24" font-weight="bold" text-anchor="middle" fill="#222" >(v)</text>
</svg>
</body></html>
